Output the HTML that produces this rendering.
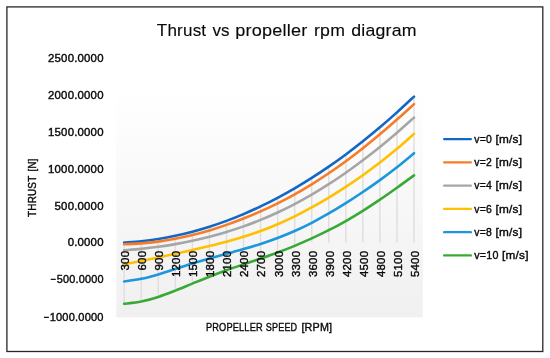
<!DOCTYPE html>
<html lang="en"><head><meta charset="utf-8"><title>Thrust vs propeller rpm diagram</title>
<style>html,body{margin:0;padding:0;background:#fff;}body{width:550px;height:358px;overflow:hidden;}svg{display:block;}text{font-family:"Liberation Sans",Arial,sans-serif;fill:#0a0a0a;stroke:#0a0a0a;stroke-width:0.4px;letter-spacing:0.2px;}</style></head><body>
<svg width="550" height="358" viewBox="0 0 550 358">
<defs><linearGradient id="pg" x1="0" y1="0" x2="0" y2="1"><stop offset="0" stop-color="#ffffff"/><stop offset="0.11" stop-color="#ffffff"/><stop offset="1" stop-color="#f0f0f0"/></linearGradient></defs>
<rect x="0" y="0" width="550" height="358" fill="#ffffff"/>
<rect x="6.9" y="6.9" width="535.9" height="344.6" fill="#ffffff" stroke="#262626" stroke-width="1.3"/>
<rect x="116.3" y="58.2" width="306.5" height="259.1" fill="url(#pg)"/>
<path d="M124.20 242.55V303.83M141.25 241.19V301.55M158.29 238.93V296.96M175.34 235.77V290.65M192.39 231.70V283.61M209.44 226.73V276.69M226.48 220.86V270.27M243.53 214.08V264.32M260.58 206.40V258.55M277.62 197.81V252.53M294.67 188.33V245.86M311.72 177.93V242.45M328.76 166.64V242.45M345.81 154.44V242.45M362.86 141.33V242.45M379.91 127.33V242.45M396.95 112.41V242.45M414.00 96.60V242.45" stroke="#dedede" stroke-width="1.4" fill="none"/>
<path d="M124.20 242.55C127.04 242.32 135.56 241.80 141.25 241.19C146.93 240.59 152.61 239.84 158.29 238.93C163.98 238.03 169.66 236.98 175.34 235.77C181.02 234.57 186.71 233.21 192.39 231.70C198.07 230.20 203.75 228.54 209.44 226.73C215.12 224.93 220.80 222.97 226.48 220.86C232.16 218.75 237.85 216.49 243.53 214.08C249.21 211.67 254.89 209.11 260.58 206.40C266.26 203.69 271.94 200.83 277.62 197.81C283.31 194.80 288.99 191.64 294.67 188.33C300.35 185.01 306.04 181.55 311.72 177.93C317.40 174.32 323.08 170.55 328.76 166.64C334.45 162.72 340.13 158.65 345.81 154.44C351.49 150.22 357.18 145.85 362.86 141.33C368.54 136.81 374.22 132.15 379.91 127.33C385.59 122.51 391.27 117.54 396.95 112.41C402.64 107.29 411.16 99.24 414.00 96.60" stroke="#1267C6" stroke-width="2.6" fill="none" stroke-linecap="round" stroke-linejoin="round"/>
<path d="M124.20 244.20C127.04 244.07 135.56 243.85 141.25 243.42C146.93 242.99 152.61 242.38 158.29 241.61C163.98 240.84 169.66 239.89 175.34 238.79C181.02 237.69 186.71 236.43 192.39 235.03C198.07 233.63 203.75 232.08 209.44 230.39C215.12 228.70 220.80 226.85 226.48 224.88C232.16 222.91 237.85 220.79 243.53 218.54C249.21 216.29 254.89 213.91 260.58 211.37C266.26 208.83 271.94 206.16 277.62 203.32C283.31 200.48 288.99 197.49 294.67 194.32C300.35 191.15 306.04 187.83 311.72 184.32C317.40 180.81 323.08 177.13 328.76 173.28C334.45 169.43 340.13 165.40 345.81 161.22C351.49 157.04 357.18 152.69 362.86 148.20C368.54 143.71 374.22 139.07 379.91 134.30C385.59 129.53 391.27 124.62 396.95 119.59C402.64 114.56 411.16 106.72 414.00 104.14" stroke="#F57C28" stroke-width="2.6" fill="none" stroke-linecap="round" stroke-linejoin="round"/>
<path d="M124.20 250.28C127.04 250.04 135.56 249.42 141.25 248.84C146.93 248.26 152.61 247.59 158.29 246.80C163.98 246.02 169.66 245.13 175.34 244.13C181.02 243.13 186.71 242.03 192.39 240.81C198.07 239.59 203.75 238.26 209.44 236.79C215.12 235.32 220.80 233.73 226.48 232.00C232.16 230.27 237.85 228.41 243.53 226.39C249.21 224.37 254.89 222.22 260.58 219.90C266.26 217.58 271.94 215.11 277.62 212.47C283.31 209.83 288.99 207.03 294.67 204.06C300.35 201.09 306.04 197.95 311.72 194.64C317.40 191.33 323.08 187.85 328.76 184.20C334.45 180.55 340.13 176.73 345.81 172.75C351.49 168.77 357.18 164.62 362.86 160.32C368.54 156.02 374.22 151.57 379.91 146.97C385.59 142.37 391.27 137.62 396.95 132.73C402.64 127.84 411.16 120.15 414.00 117.63" stroke="#A6A6A6" stroke-width="2.6" fill="none" stroke-linecap="round" stroke-linejoin="round"/>
<path d="M124.20 264.30C127.04 263.75 135.56 262.13 141.25 261.00C146.93 259.87 152.61 258.69 158.29 257.50C163.98 256.31 169.66 255.08 175.34 253.83C181.02 252.58 186.71 251.31 192.39 250.01C198.07 248.71 203.75 247.41 209.44 246.03C215.12 244.65 220.80 243.27 226.48 241.74C232.16 240.21 237.85 238.62 243.53 236.84C249.21 235.06 254.89 233.17 260.58 231.07C266.26 228.97 271.94 226.70 277.62 224.24C283.31 221.78 288.99 219.14 294.67 216.33C300.35 213.52 306.04 210.53 311.72 207.40C317.40 204.27 323.08 200.98 328.76 197.55C334.45 194.12 340.13 190.56 345.81 186.84C351.49 183.12 357.18 179.26 362.86 175.22C368.54 171.18 374.22 166.99 379.91 162.59C385.59 158.19 391.27 153.60 396.95 148.82C402.64 144.04 411.16 136.38 414.00 133.89" stroke="#FFC000" stroke-width="2.6" fill="none" stroke-linecap="round" stroke-linejoin="round"/>
<path d="M124.20 281.50C127.04 281.06 135.56 280.02 141.25 278.84C146.93 277.66 152.61 276.04 158.29 274.41C163.98 272.78 169.66 270.86 175.34 269.05C181.02 267.25 186.71 265.33 192.39 263.58C198.07 261.82 203.75 260.15 209.44 258.52C215.12 256.89 220.80 255.38 226.48 253.80C232.16 252.22 237.85 250.69 243.53 249.04C249.21 247.39 254.89 245.74 260.58 243.90C266.26 242.06 271.94 240.15 277.62 238.00C283.31 235.85 288.99 233.56 294.67 231.03C300.35 228.50 306.04 225.76 311.72 222.83C317.40 219.91 323.08 216.76 328.76 213.48C334.45 210.20 340.13 206.73 345.81 203.16C351.49 199.59 357.18 195.88 362.86 192.04C368.54 188.20 374.22 184.26 379.91 180.13C385.59 176.00 391.27 171.73 396.95 167.24C402.64 162.75 411.16 155.54 414.00 153.20" stroke="#1C96DC" stroke-width="2.6" fill="none" stroke-linecap="round" stroke-linejoin="round"/>
<path d="M124.20 303.83C127.04 303.45 135.56 302.69 141.25 301.55C146.93 300.41 152.61 298.78 158.29 296.96C163.98 295.14 169.66 292.88 175.34 290.65C181.02 288.42 186.71 285.94 192.39 283.61C198.07 281.28 203.75 278.91 209.44 276.69C215.12 274.47 220.80 272.33 226.48 270.27C232.16 268.21 237.85 266.27 243.53 264.32C249.21 262.37 254.89 260.51 260.58 258.55C266.26 256.59 271.94 254.65 277.62 252.53C283.31 250.41 288.99 248.21 294.67 245.86C300.35 243.51 306.04 241.05 311.72 238.44C317.40 235.83 323.08 233.09 328.76 230.19C334.45 227.28 340.13 224.24 345.81 221.01C351.49 217.78 357.18 214.39 362.86 210.83C368.54 207.28 374.22 203.53 379.91 199.68C385.59 195.83 391.27 191.81 396.95 187.75C402.64 183.69 411.16 177.42 414.00 175.35" stroke="#39A935" stroke-width="2.6" fill="none" stroke-linecap="round" stroke-linejoin="round"/>
<text y="35.7" font-size="16.2" style="stroke-width:0.12px"><tspan x="156.8" textLength="49.5" lengthAdjust="spacingAndGlyphs">Thrust</tspan> <tspan x="212.4" textLength="17.4" lengthAdjust="spacingAndGlyphs">vs</tspan> <tspan x="235.2" textLength="72.4" lengthAdjust="spacingAndGlyphs">propeller</tspan> <tspan x="314.0" textLength="31.1" lengthAdjust="spacingAndGlyphs">rpm</tspan> <tspan x="351.2" textLength="65.6" lengthAdjust="spacingAndGlyphs">diagram</tspan></text>
<g font-size="11.4" text-anchor="end">
<text x="103.7" y="62.25">2500.0000</text>
<text x="103.7" y="99.05">2000.0000</text>
<text x="103.7" y="135.95">1500.0000</text>
<text x="103.7" y="172.85">1000.0000</text>
<text x="103.7" y="209.85">500.0000</text>
<text x="103.7" y="246.45">0.0000</text>
<text y="283.45" text-anchor="start"><tspan x="50.4" textLength="5.6" lengthAdjust="spacingAndGlyphs">−</tspan><tspan x="56.7" textLength="47.0" lengthAdjust="spacingAndGlyphs">500.0000</tspan></text>
<text y="321.05" text-anchor="start"><tspan x="43.8" textLength="5.6" lengthAdjust="spacingAndGlyphs">−</tspan><tspan x="49.7" textLength="54.0" lengthAdjust="spacingAndGlyphs">1000.0000</tspan></text>
</g>
<g font-size="11.3" text-anchor="end">
<text transform="translate(129.10 250.8) rotate(-90)" textLength="19.7" lengthAdjust="spacingAndGlyphs">300</text>
<text transform="translate(146.15 250.8) rotate(-90)" textLength="19.7" lengthAdjust="spacingAndGlyphs">600</text>
<text transform="translate(163.19 250.8) rotate(-90)" textLength="19.7" lengthAdjust="spacingAndGlyphs">900</text>
<text transform="translate(180.24 250.8) rotate(-90)" textLength="26.2" lengthAdjust="spacingAndGlyphs">1200</text>
<text transform="translate(197.29 250.8) rotate(-90)" textLength="26.2" lengthAdjust="spacingAndGlyphs">1500</text>
<text transform="translate(214.34 250.8) rotate(-90)" textLength="26.2" lengthAdjust="spacingAndGlyphs">1800</text>
<text transform="translate(231.38 250.8) rotate(-90)" textLength="26.2" lengthAdjust="spacingAndGlyphs">2100</text>
<text transform="translate(248.43 250.8) rotate(-90)" textLength="26.2" lengthAdjust="spacingAndGlyphs">2400</text>
<text transform="translate(265.48 250.8) rotate(-90)" textLength="26.2" lengthAdjust="spacingAndGlyphs">2700</text>
<text transform="translate(282.52 250.8) rotate(-90)" textLength="26.2" lengthAdjust="spacingAndGlyphs">3000</text>
<text transform="translate(299.57 250.8) rotate(-90)" textLength="26.2" lengthAdjust="spacingAndGlyphs">3300</text>
<text transform="translate(316.62 250.8) rotate(-90)" textLength="26.2" lengthAdjust="spacingAndGlyphs">3600</text>
<text transform="translate(333.66 250.8) rotate(-90)" textLength="26.2" lengthAdjust="spacingAndGlyphs">3900</text>
<text transform="translate(350.71 250.8) rotate(-90)" textLength="26.2" lengthAdjust="spacingAndGlyphs">4200</text>
<text transform="translate(367.76 250.8) rotate(-90)" textLength="26.2" lengthAdjust="spacingAndGlyphs">4500</text>
<text transform="translate(384.81 250.8) rotate(-90)" textLength="26.2" lengthAdjust="spacingAndGlyphs">4800</text>
<text transform="translate(401.85 250.8) rotate(-90)" textLength="26.2" lengthAdjust="spacingAndGlyphs">5100</text>
<text transform="translate(418.90 250.8) rotate(-90)" textLength="26.2" lengthAdjust="spacingAndGlyphs">5400</text>
</g>
<text y="331.0" font-size="11.7"><tspan x="205.9" textLength="56.9" lengthAdjust="spacingAndGlyphs">PROPELLER</tspan> <tspan x="265.8" textLength="31.5" lengthAdjust="spacingAndGlyphs">SPEED</tspan> <tspan x="301.4" textLength="30.9" lengthAdjust="spacingAndGlyphs">[RPM]</tspan></text>
<text transform="translate(36.3 0) rotate(-90)" y="0" font-size="11.7"><tspan x="-216.9" textLength="41.1" lengthAdjust="spacingAndGlyphs">THRUST</tspan> <tspan x="-171.4" textLength="12.8" lengthAdjust="spacingAndGlyphs">[N]</tspan></text>
<path d="M444.2 139.10H470.8" stroke="#1267C6" stroke-width="2.4" stroke-linecap="round" fill="none"/>
<text y="142.85" font-size="11.4"><tspan x="474.3" textLength="17.6" lengthAdjust="spacingAndGlyphs">v=0</tspan> <tspan x="495.6" textLength="26.6" lengthAdjust="spacingAndGlyphs">[m/s]</tspan></text>
<path d="M444.2 162.36H470.8" stroke="#F57C28" stroke-width="2.4" stroke-linecap="round" fill="none"/>
<text y="166.11" font-size="11.4"><tspan x="474.3" textLength="17.6" lengthAdjust="spacingAndGlyphs">v=2</tspan> <tspan x="495.6" textLength="26.6" lengthAdjust="spacingAndGlyphs">[m/s]</tspan></text>
<path d="M444.2 185.62H470.8" stroke="#A6A6A6" stroke-width="2.4" stroke-linecap="round" fill="none"/>
<text y="189.37" font-size="11.4"><tspan x="474.3" textLength="17.6" lengthAdjust="spacingAndGlyphs">v=4</tspan> <tspan x="495.6" textLength="26.6" lengthAdjust="spacingAndGlyphs">[m/s]</tspan></text>
<path d="M444.2 208.88H470.8" stroke="#FFC000" stroke-width="2.4" stroke-linecap="round" fill="none"/>
<text y="212.63" font-size="11.4"><tspan x="474.3" textLength="17.6" lengthAdjust="spacingAndGlyphs">v=6</tspan> <tspan x="495.6" textLength="26.6" lengthAdjust="spacingAndGlyphs">[m/s]</tspan></text>
<path d="M444.2 232.14H470.8" stroke="#1C96DC" stroke-width="2.4" stroke-linecap="round" fill="none"/>
<text y="235.89" font-size="11.4"><tspan x="474.3" textLength="17.6" lengthAdjust="spacingAndGlyphs">v=8</tspan> <tspan x="495.6" textLength="26.6" lengthAdjust="spacingAndGlyphs">[m/s]</tspan></text>
<path d="M444.2 255.40H470.8" stroke="#39A935" stroke-width="2.4" stroke-linecap="round" fill="none"/>
<text y="259.15" font-size="11.4"><tspan x="474.3" textLength="24.3" lengthAdjust="spacingAndGlyphs">v=10</tspan> <tspan x="502.1" textLength="26.6" lengthAdjust="spacingAndGlyphs">[m/s]</tspan></text>
</svg></body></html>
